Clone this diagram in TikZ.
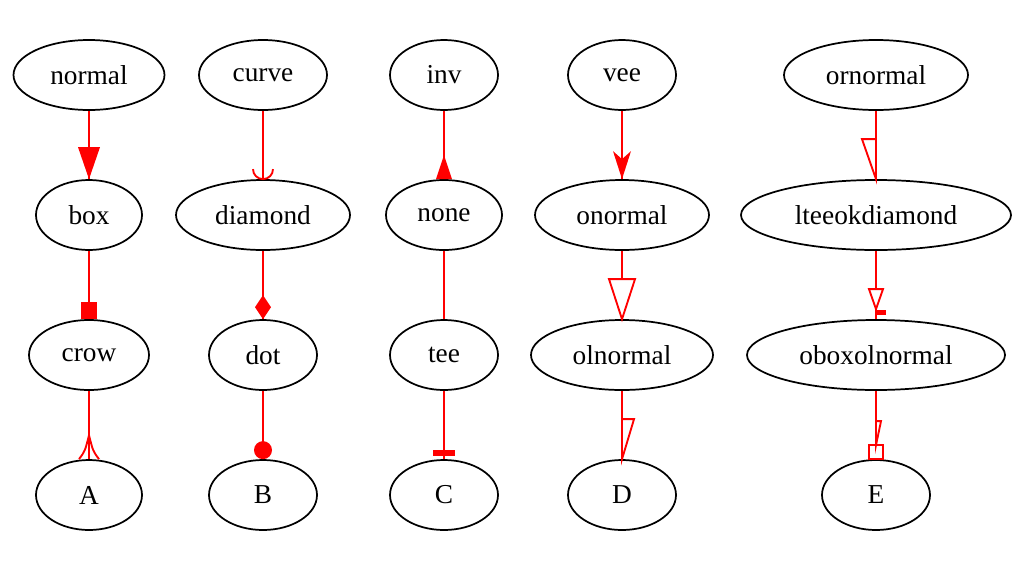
\documentclass[tikz,border=0pt]{standalone}
\usepackage{fontspec}
\setmainfont{Liberation Serif}
\usetikzlibrary{shapes.geometric}
\begin{document}
\begin{tikzpicture}[x=0.75pt,y=-0.75pt,
  el/.style={ellipse,draw,line width=1.3pt,inner sep=0pt,minimum height=52.5pt,font=\fontsize{20.5}{24}\selectfont},
  ed/.style={red,line width=1.4pt},
  hd/.style={red,line width=1.4pt,line join=miter}]
\useasboundingbox (0,0) rectangle (1024,568);
\def\R#1{#1*1.5pt}
% column 1
\node[el,minimum width=\R{75.5}] (normal) at (89,75) {normal};
\node[el,minimum width=\R{53}] (box) at (89,215) {box};
\node[el,minimum width=\R{60}] (crow) at (89,355) {crow};
\node[el,minimum width=\R{53}] (A) at (89,495) {A};
% column 2
\node[el,minimum width=\R{64}] (curve) at (263,75) {curve};
\node[el,minimum width=\R{87}] (diamond) at (263,215) {diamond};
\node[el,minimum width=\R{54}] (dot) at (263,355) {dot};
\node[el,minimum width=\R{54}] (B) at (263,495) {B};
% column 3
\node[el,minimum width=\R{54}] (inv) at (444,75) {inv};
\node[el,minimum width=\R{58}] (none) at (444,215) {none};
\node[el,minimum width=\R{54}] (tee) at (444,355) {tee};
\node[el,minimum width=\R{54}] (C) at (444,495) {C};
% column 4
\node[el,minimum width=\R{54}] (vee) at (622,75) {vee};
\node[el,minimum width=\R{87}] (onormal) at (622,215) {onormal};
\node[el,minimum width=\R{91}] (olnormal) at (622,355) {olnormal};
\node[el,minimum width=\R{54}] (D) at (622,495) {D};
% column 5
\node[el,minimum width=\R{92}] (ornormal) at (876,75) {ornormal};
\node[el,minimum width=\R{135}] (lteeokdiamond) at (876,215) {lteeokdiamond};
\node[el,minimum width=\R{129}] (oboxolnormal) at (876,355) {oboxolnormal};
\node[el,minimum width=\R{54}] (E) at (876,495) {E};
% edges
\foreach \a/\b in {normal/box,box/crow,crow/A,curve/diamond,diamond/dot,dot/B,inv/none,none/tee,tee/C,vee/onormal,onormal/olnormal,olnormal/D,ornormal/lteeokdiamond,lteeokdiamond/oboxolnormal,oboxolnormal/E}
  \draw[ed] (\a.south) -- (\b.north);
% heads
\begin{scope}[shift={(box.north)}]
  \fill[red] (0,0) -- (-11,-32) -- (11,-32) -- cycle;
\end{scope}
\begin{scope}[shift={(crow.north)}]
  \fill[red] (-8,-17) rectangle (8,0);
\end{scope}
\begin{scope}[shift={(A.north)}]
  \draw[hd] (-10,0) .. controls (-4,-8) .. (0,-24) .. controls (4,-8) .. (10,0);
\end{scope}
\begin{scope}[shift={(diamond.north)}]
  \draw[hd] (-10,-10) arc[start angle=180,end angle=0,radius=10];
\end{scope}
\begin{scope}[shift={(dot.north)}]
  \fill[red] (0,0) -- (-8,-12) -- (0,-24) -- (8,-12) -- cycle;
\end{scope}
\begin{scope}[shift={(B.north)}]
  \fill[red] (0,-9) circle[radius=9];
\end{scope}
\begin{scope}[shift={(none.north)}]
  \fill[red] (-8,0) -- (0,-24) -- (8,0) -- cycle;
\end{scope}
\begin{scope}[shift={(C.north)}]
  \fill[red] (-11,-9) rectangle (11,-3);
\end{scope}
\begin{scope}[shift={(onormal.north)}]
  \fill[red] (0,0) -- (-9,-28) -- (0,-20) -- (9,-28) -- cycle;
\end{scope}
\begin{scope}[shift={(olnormal.north)}]
  \draw[hd,fill=white] (0,0) -- (-13,-40) -- (13,-40) -- cycle;
\end{scope}
\begin{scope}[shift={(D.north)}]
  \draw[hd,fill=white] (0,0) -- (0,-40) -- (12,-40) -- cycle;
\end{scope}
\begin{scope}[shift={(lteeokdiamond.north)}]
  \draw[hd,fill=white] (0,0) -- (0,-40) -- (-14,-40) -- cycle;
\end{scope}
\begin{scope}[shift={(oboxolnormal.north)}]
  \fill[red] (0,-9) rectangle (10,-4);
  \draw[hd,fill=white] (0,-10) -- (-7,-30) -- (7,-30) -- cycle;
\end{scope}
\begin{scope}[shift={(E.north)}]
  \draw[hd,fill=white] (-7,0) rectangle (7,-14);
  \draw[hd,fill=white] (0,-14) -- (0,-38) -- (5,-38) -- cycle;
\end{scope}
\end{tikzpicture}
\end{document}
